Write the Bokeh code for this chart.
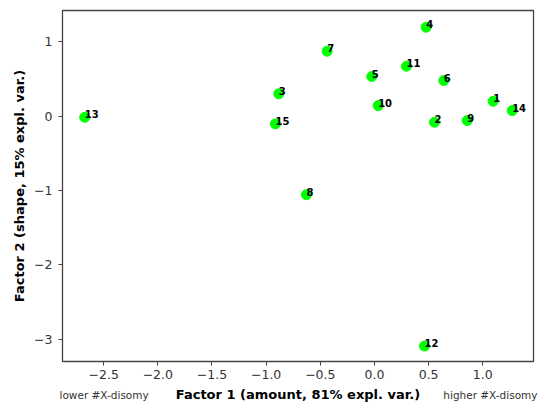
from bokeh.plotting import figure
from bokeh.models import ColumnDataSource, Range1d
from bokeh.layouts import column, row
from bokeh.core.properties import value
from bokeh.embed import file_html
from bokeh.resources import INLINE

names = ["1", "2", "3", "4", "5", "6", "7", "8", "9", "10", "11", "12", "13", "14", "15"]
factor1 = [1.096, 0.554, -0.883, 0.477, -0.025, 0.640, -0.437, -0.628, 0.856, 0.034, 0.295, 0.462, -2.675, 1.271, -0.914]
factor2 = [0.199, -0.083, 0.300, 1.195, 0.532, 0.478, 0.872, -1.057, -0.060, 0.141, 0.670, -3.093, -0.016, 0.074, -0.105]

x_label = "Factor 1 (amount, 81% expl. var.)"
y_label = "Factor 2 (shape, 15% expl. var.)"
low_note = "lower #X-disomy"
high_note = "higher #X-disomy"
x_ticks = [-2.5, -2.0, -1.5, -1.0, -0.5, 0.0, 0.5, 1.0]
y_ticks = [-3, -2, -1, 0, 1]
x_min, x_max = -2.88, 1.468
y_min, y_max = -3.30, 1.42

FONT = "DejaVu Sans"
TICKC = "#333333"
W, H_MAIN, H_FOOT = 550, 385, 24

src = ColumnDataSource(dict(x=factor1, y=factor2, name=names))

p = figure(width=W, height=H_MAIN, output_backend="svg", toolbar_location=None,
           x_range=Range1d(x_min, x_max), y_range=Range1d(y_min, y_max),
           min_border_left=62, min_border_right=17, min_border_top=10, min_border_bottom=24)

p.xgrid.visible = False
p.ygrid.visible = False
p.outline_line_color = "#444444"
p.outline_line_width = 1.3
p.background_fill_color = "white"
p.border_fill_color = "white"

p.scatter("x", "y", source=src, size=10, fill_color="#00ff00", line_color="#00ff00")
p.text("x", "y", text="name", source=src, x_offset=0, y_offset=-3,
       text_font=value(FONT), text_font_style="bold", text_font_size="10px",
       text_color="black", text_align="left", text_baseline="alphabetic")

for ax, ticks in ((p.xaxis[0], x_ticks), (p.yaxis[0], y_ticks)):
    ax.ticker = ticks
    ax.axis_line_color = None
    ax.major_tick_line_color = "#444444"
    ax.major_tick_in = 0
    ax.major_tick_out = 4
    ax.minor_tick_line_color = None
    ax.major_label_text_font = FONT
    ax.major_label_text_font_size = "12.5px"
    ax.major_label_text_color = TICKC
    ax.axis_label_text_font = FONT
    ax.axis_label_text_font_style = "bold"
    ax.axis_label_text_font_size = "13px"
    ax.axis_label_text_color = "black"

p.yaxis.axis_label = y_label
p.xaxis.major_label_overrides = {t: ("%.1f" % t).replace("-", "\u2212") for t in x_ticks}
p.yaxis.major_label_overrides = {t: str(t).replace("-", "\u2212") for t in y_ticks}
p.xaxis.major_label_standoff = 4
p.yaxis.major_label_standoff = 6
p.yaxis.axis_label_standoff = 4

# footer row in page-pixel coordinates: x-axis title with the two direction notes
foot = figure(width=W, height=H_FOOT, output_backend="svg", toolbar_location=None,
              x_range=Range1d(0, W), y_range=Range1d(0, H_FOOT),
              x_axis_location=None, y_axis_location=None,
              min_border=0, outline_line_color=None)
foot.xgrid.visible = False
foot.ygrid.visible = False
foot.text(x=[297.5], y=[15], text=[x_label], text_font=value(FONT), text_font_style="bold",
          text_font_size="13px", text_color="black", text_align="center", text_baseline="alphabetic")
foot.text(x=[59], y=[15], text=[low_note], text_font=value(FONT), text_font_size="10.5px",
          text_color=TICKC, text_align="left", text_baseline="alphabetic")
foot.text(x=[537], y=[15], text=[high_note], text_font=value(FONT), text_font_size="10.5px",
          text_color=TICKC, text_align="right", text_baseline="alphabetic")

layout = column(p, row(foot, spacing=0), spacing=0)
open("out.html", "w").write(file_html(layout, INLINE))
